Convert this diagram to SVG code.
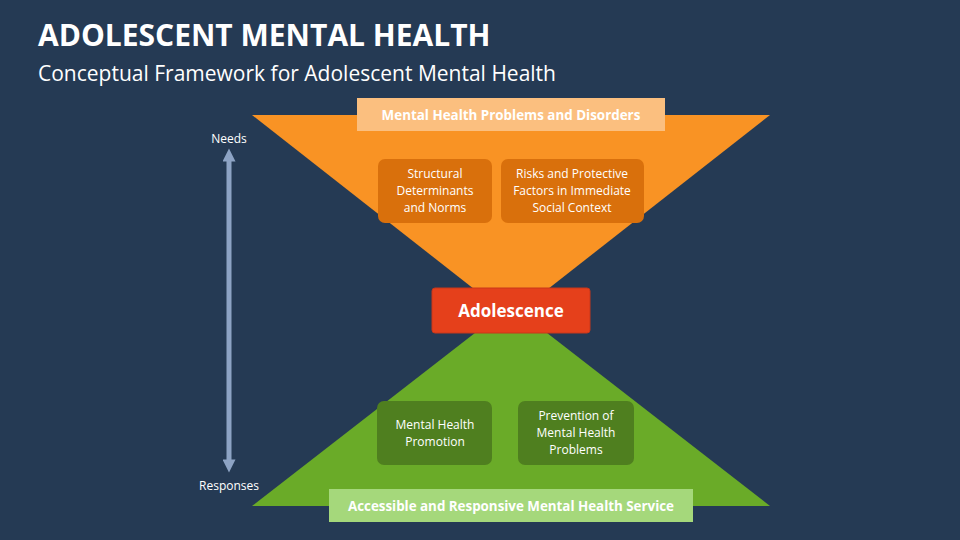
<svg xmlns="http://www.w3.org/2000/svg" width="960" height="540" viewBox="0 0 960 540">
<style>
text{font-family:"Open Sans","Liberation Sans",sans-serif;fill:#fff}
.t{font-weight:bold;font-size:30px}
.s{font-size:21px}
.b{font-size:12px;text-anchor:middle}
.l{font-size:13.4px;font-weight:bold;text-anchor:middle}
</style>
<defs>
<marker id="ah" viewBox="0 0 10 10" refX="5" refY="5" markerWidth="3" markerHeight="2.6" orient="auto-start-reverse"><path d="M0,0L10,5L0,10z" fill="#8da3c4"/></marker>
</defs>
<rect width="960" height="540" fill="#253a54"/>
<text class="t" x="38" y="46">ADOLESCENT MENTAL HEALTH</text>
<text class="s" x="38" y="81" textLength="518">Conceptual Framework for Adolescent Mental Health</text>
<g id="top-funnel"><polygon points="252,115 770,115 511,318" fill="#f99324"/></g>
<g id="bottom-funnel"><polygon points="252,506 770,506 511,305" fill="#6aab28"/></g>
<g id="connectors"><line x1="229" y1="155" x2="229" y2="466" stroke="#8da3c4" stroke-width="5" marker-start="url(#ah)" marker-end="url(#ah)"/></g>
<g id="needs"><text class="b" x="229" y="143">Needs</text></g>
<g id="responses"><text class="b" x="229" y="490">Responses</text></g>
<g id="problems"><rect x="357" y="98" width="308" height="33" fill="#fbbf7f"/><text class="l" x="511" y="120">Mental Health Problems and Disorders</text></g>
<g id="structural"><rect x="378" y="159" width="114" height="64" rx="7" fill="#d9700c"/><text class="b" x="435" y="178">Structural</text><text class="b" x="435" y="195">Determinants</text><text class="b" x="435" y="212">and Norms</text></g>
<g id="risks"><rect x="501" y="159" width="143" height="64" rx="7" fill="#d9700c"/><text class="b" x="572" y="178">Risks and Protective</text><text class="b" x="572" y="195">Factors in Immediate</text><text class="b" x="572" y="212">Social Context</text></g>
<g id="adolescence"><rect x="432" y="288" width="158" height="45" rx="3" fill="#e5401b" stroke="#c8361a"/><text x="511" y="317" style="font-size:17px;font-weight:bold;text-anchor:middle">Adolescence</text></g>
<g id="promotion"><rect x="377" y="401" width="115" height="64" rx="7" fill="#4f7f1f"/><text class="b" x="435" y="429">Mental Health</text><text class="b" x="435" y="446">Promotion</text></g>
<g id="prevention"><rect x="518" y="401" width="116" height="64" rx="7" fill="#4f7f1f"/><text class="b" x="576" y="420">Prevention of</text><text class="b" x="576" y="437">Mental Health</text><text class="b" x="576" y="454">Problems</text></g>
<g id="service"><rect x="329" y="489" width="364" height="33" fill="#a5d87b"/><text class="l" x="511" y="511" textLength="326">Accessible and Responsive Mental Health Service</text></g>
</svg>
